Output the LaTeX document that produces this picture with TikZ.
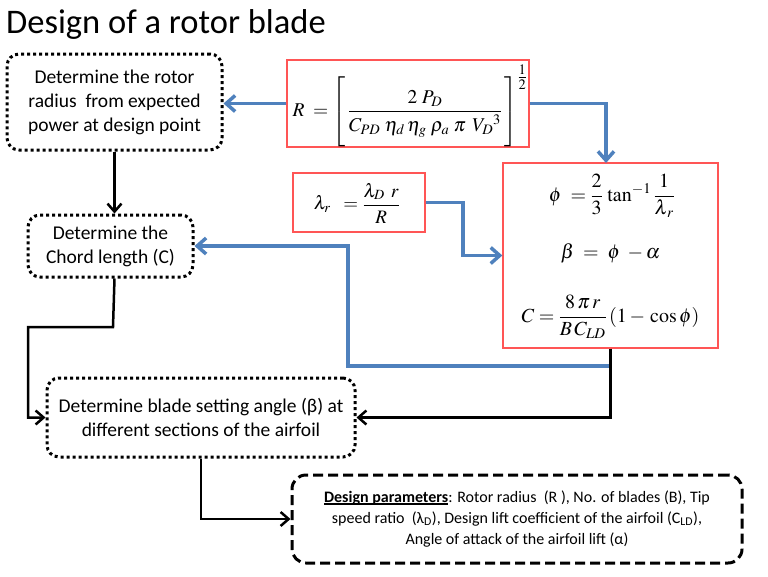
\documentclass[tikz,border=0pt]{standalone}
\usepackage{amsmath}
\usepackage{mathptmx}
\usepackage[no-math]{fontspec}
\setmainfont{Carlito}
\usetikzlibrary{arrows.meta}
\definecolor{arrblue}{RGB}{79,129,189}
\definecolor{boxred}{RGB}{255,85,85}
\newcommand\myul[1]{\setbox0\hbox{#1}\rlap{\rule[-2.2pt]{\wd0}{1.3pt}}\box0}
\tikzset{
  x=1pt,y=-1pt,
  dotbox/.style={draw=black,line width=3pt,dash pattern=on 3pt off 3pt,rounded corners=12pt,align=center,inner sep=0pt,font=\fontsize{19.5}{24}\selectfont},
  dashbox/.style={draw=black,line width=3pt,dash pattern=on 10pt off 5pt,rounded corners=14pt,align=center,inner sep=0pt,font=\fontsize{16}{21}\selectfont},
  redbox/.style={draw=boxred,line width=1.3pt,inner sep=0pt},
  formula/.style={inner sep=0pt,font=\fontsize{20}{24}\selectfont},
  bluearrow/.style={draw=arrblue,line width=3.5pt,-{Straight Barb[length=9pt,width=16pt,line width=3.5pt]}},
  blackarrow/.style={draw=black,line width=2.5pt,-{Straight Barb[length=8pt,width=14pt,line width=2.5pt]}},
}
\begin{document}
\begin{tikzpicture}
\useasboundingbox (0,0) rectangle (768,576);
\node[anchor=west,inner sep=0pt,font=\fontsize{34.5}{38}\selectfont] (title) at (6,24) {Design of a rotor blade};

\node[dotbox,minimum width=215pt,minimum height=96pt] (b1) at (114.5,102) {Determine the rotor\\radius~ from expected\\power at design point};
\node[dotbox,minimum width=165pt,minimum height=62pt] (b2) at (110.5,246) {Determine the\\Chord length (C)};
\node[dotbox,minimum width=308pt,minimum height=79pt] (b3) at (201,417.5) {Determine blade setting angle (β) at\\different sections of the airfoil};
\node[dashbox,minimum width=450pt,minimum height=88pt] (b4) at (517,519) {\myul{\textbf{Design parameters}}: Rotor radius~ (R ), No. of blades (B), Tip\\speed ratio~ (λ\textsubscript{D}), Design lift coefficient of the airfoil (C\textsubscript{LD}),\\Angle of attack of the airfoil lift (α)};

\node[redbox,minimum width=242pt,minimum height=87pt] (rb) at (408,103.5) {};
\node[formula,font=\fontsize{19.5}{24}\selectfont] (rf) at (410,106) {$R\;=\left[\rule[-27pt]{0pt}{55pt}\,\dfrac{2\;P_D}{C_{PD}\;\eta_d\,\eta_g\;\rho_a\;\pi\;\,{V_D}^{3}}\,\right]^{\textstyle\frac{1}{2}}$};

\node[redbox,minimum width=132pt,minimum height=59pt] (lb) at (359,202.5) {};
\node[formula,font=\fontsize{19}{22}\selectfont] (lf) at (357,203) {$\lambda_{r}\;\;=\dfrac{\lambda_D\;\,r}{R}$};

\node[redbox,minimum width=215pt,minimum height=185pt] (pb) at (610.5,255.5) {};
\node[formula] (pf1) at (612,196) {$\phi\;=\dfrac{2}{3}\,\tan^{-1}\dfrac{1}{\lambda_{\,r}}$};
\node[formula] (pf2) at (610.5,253) {$\beta\;=\;\phi\;-\alpha$};
\node[formula] (pf3) at (610.5,317) {$C=\dfrac{8\,\pi\, r}{B\,C_{LD}}\left(1-\,\cos\phi\right)$};

% blue connectors
\draw[bluearrow] (rb.west) -- (rb.west -| b1.east);
\draw[bluearrow] (rb.east) -- (606,103.5) -- (606,163);
\draw[bluearrow] (lb.east) -- (463,202.5) |- (pb.west);
\coordinate (bs) at (610,366);
\draw[bluearrow] (bs) -- (348,366) |- (b2.east);

% black connectors
\draw[blackarrow] (b1.south) -- (b1.south |- b2.north);
\draw[blackarrow] (b1.south |- b2.south) -- (113,327) -- (28,327) |- (b3.west);
\draw[blackarrow] (pb.south) |- (b3.east);
\draw[blackarrow] (b3.south) |- (b4.west);
\end{tikzpicture}
\end{document}
